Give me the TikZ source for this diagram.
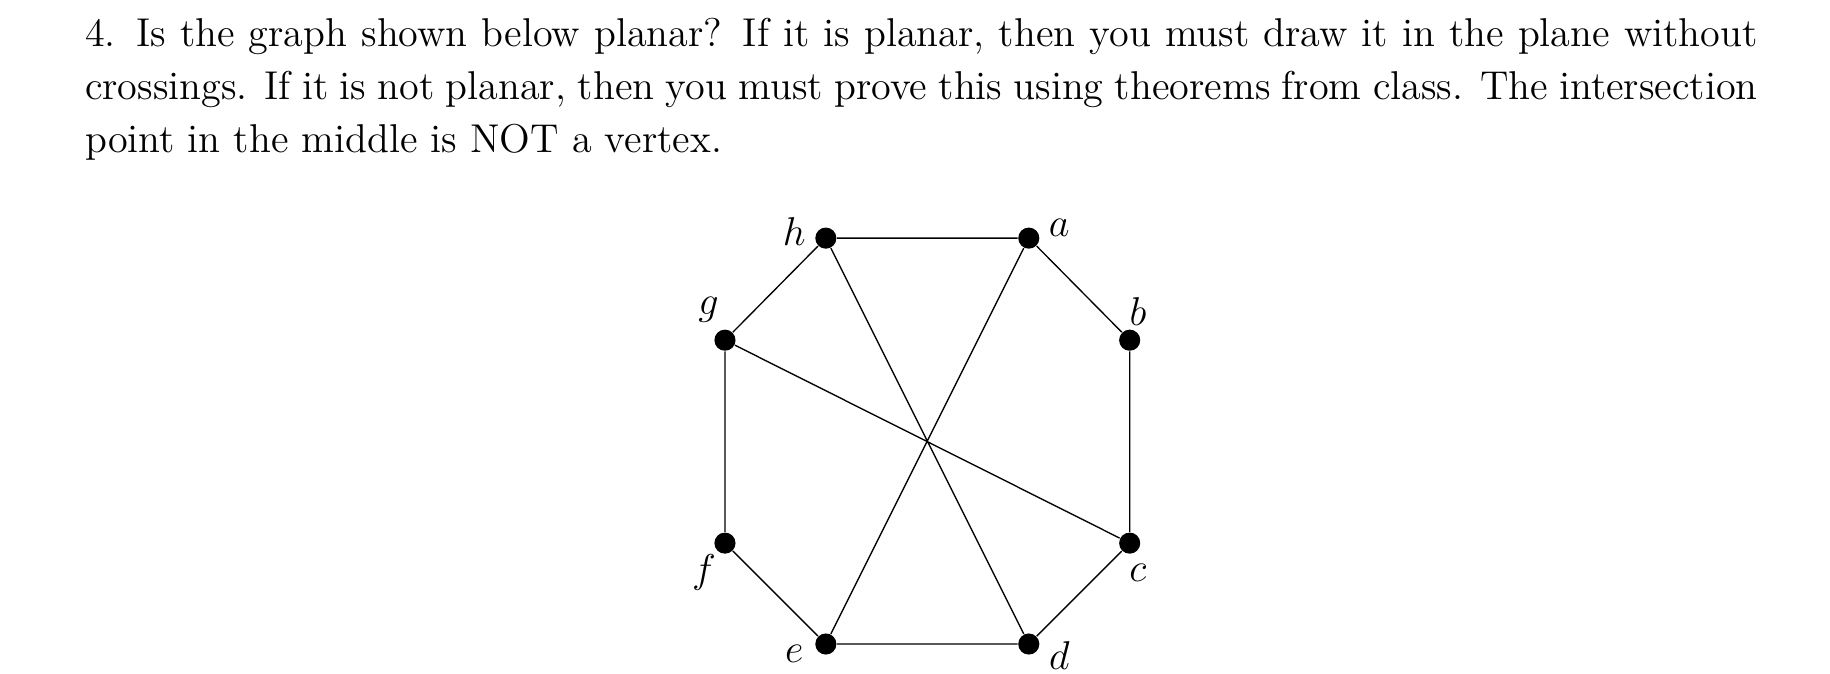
\documentclass[tikz,border=0pt]{standalone}
\begin{document}
\begin{tikzpicture}[x=0.35pt,y=-0.35pt,
  vtx/.style={circle,fill=black,inner sep=0pt,minimum size=6.3pt},
  lbl/.style={font=\fontsize{13}{15}\selectfont}]
\useasboundingbox (0,0) rectangle (1560,574);
\node[anchor=north west,inner sep=0pt,text width=499pt,align=justify,font=\fontsize{12}{15.75}\selectfont] (txt) at (72,15)
{4. Is the graph shown below planar? If it is planar, then you must draw it in the plane without\linebreak crossings. If it is not planar, then you must prove this using theorems from class. The intersection\linebreak point in the middle is NOT a vertex.};
\node[vtx] (h) at (704,203) {};
\node[vtx] (a) at (877,203) {};
\node[vtx] (b) at (963,290) {};
\node[vtx] (c) at (963,463) {};
\node[vtx] (d) at (877,549) {};
\node[vtx] (e) at (704,549) {};
\node[vtx] (f) at (618,463) {};
\node[vtx] (g) at (618,290) {};
\node[lbl] (lh) at (677,197) {$h$};
\node[lbl] (la) at (903,194) {$a$};
\node[lbl] (lb) at (970,266) {$b$};
\node[lbl] (lg) at (604,264) {$g$};
\node[lbl] (lf) at (600,488) {$f$};
\node[lbl] (lc) at (970,488) {$c$};
\node[lbl] (le) at (677,557) {$e$};
\node[lbl] (ld) at (903,559) {$d$};
\draw[line width=0.4pt] (h)--(a)--(b)--(c)--(d)--(e)--(f)--(g)--(h);
\draw[line width=0.4pt] (h)--(d) (a)--(e) (g)--(c);
\end{tikzpicture}
\end{document}
